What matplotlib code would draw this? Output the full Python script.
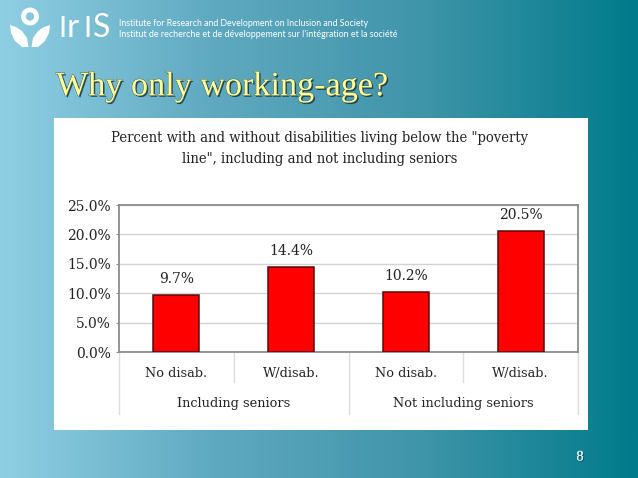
import numpy as np
from matplotlib import pyplot as plt
from matplotlib import patheffects as pe
from matplotlib.colors import LinearSegmentedColormap
from matplotlib.patches import Rectangle, Circle, Polygon

W, H = 638, 478

categories = ['No disab.', 'W/disab.', 'No disab.', 'W/disab.']
groups = ['Including seniors', 'Not including seniors']
values = [9.7, 14.4, 10.2, 20.5]
yticks = [0, 5, 10, 15, 20, 25]

title = 'Why only working-age?'
chart_title = 'Percent with and without disabilities living below the "poverty\nline", including and not including seniors'
org_en = 'Institute for Research and Development on Inclusion and Society'
org_fr = "Institut de recherche et de développement sur l'intégration et la société"

plt.rcParams['font.family'] = ['Liberation Serif', 'DejaVu Serif']

fig = plt.figure(figsize=(W / 100, H / 100), dpi=100)

# background, in pixel coordinates
bg = fig.add_axes([0, 0, 1, 1])
bg.axis('off')
cmap = LinearSegmentedColormap.from_list('slide', ['#8fcfe3', '#5fa9c0', '#3f94a9', '#007b8b'])
bg.imshow(np.linspace(0, 1, 256).reshape(1, -1), cmap=cmap, extent=[0, W, H, 0], aspect='auto')
bg.set_xlim(0, W)
bg.set_ylim(H, 0)

# white panel
bg.add_patch(Rectangle((54, 118), 534, 312, fc='white', ec='none'))

# logo
bg.add_patch(Circle((30, 16.5), 6.6, fc='none', ec='white', lw=3.4))
left_wing = np.array([(10, 25), (16, 27), (22, 31), (27, 38), (28.5, 47), (22, 47), (15, 41), (11, 33)])
right_wing = np.column_stack([60 - left_wing[:, 0], left_wing[:, 1]])
bg.add_patch(Polygon(left_wing, fc='white', ec='none'))
bg.add_patch(Polygon(right_wing, fc='white', ec='none'))
for lx, letter, size in [(58, 'I', 21), (67, 'r', 24), (83, 'I', 21), (93, 'S', 23)]:
    bg.text(lx, 36.5, letter, color='white', fontsize=size, family='Lato', va='baseline', ha='left')
bg.text(119, 23.5, org_en, color='white', fontsize=6.32, family='Lato', va='center', ha='left')
bg.text(119, 34, org_fr, color='white', fontsize=6.41, family='Lato', va='center', ha='left')

# slide title
bg.text(56, 87, title, color='#ffff99', fontsize=24.6, family='Liberation Serif', va='center', ha='left',
        path_effects=[pe.withSimplePatchShadow(offset=(1.1, -1.1), shadow_rgbFace='#1c3c48', alpha=0.9),
                      pe.Stroke(linewidth=0.6, foreground='#34504f'), pe.Normal()])
bg.text(580, 457, '8', color='#e8f4e8', fontsize=10.5, family='Liberation Serif', va='center', ha='center',
        path_effects=[pe.withSimplePatchShadow(offset=(0.6, -0.6), shadow_rgbFace='#103040', alpha=0.8), pe.Normal()])

# chart title
bg.text(320, 148.5, chart_title, color='#222222', fontsize=10.6, family='DejaVu Serif', va='center', ha='center',
        linespacing=1.6, stretch='condensed')

# chart
ax = fig.add_axes([119 / W, 1 - 352 / H, (578 - 119) / W, (352 - 205) / H])
ax.set_zorder(2)
x = np.arange(len(values))
ax.bar(x, values, width=0.4, color='#ff0000', edgecolor='#5a0a0a', linewidth=1.1, zorder=3)
ax.set_xlim(-0.5, 3.5)
ax.set_ylim(0, 25)
ax.set_yticks(yticks)
ax.set_yticklabels(['%.1f%%' % v for v in yticks], fontsize=10, family='DejaVu Serif', color='#222222')
ax.yaxis.grid(True, color='#d4d4d4', lw=1)
ax.set_axisbelow(True)
ax.tick_params(axis='y', length=2, color='#8c8c8c', pad=4)
ax.set_xticks([])
for s in ax.spines.values():
    s.set_color('#8c8c8c')
    s.set_linewidth(1.3)

for xi, v in zip(x, values):
    ax.annotate('%.1f%%' % v, (xi, v), xytext=(0, 11.5), textcoords='offset points', ha='center', va='center',
                fontsize=10, family='DejaVu Serif', color='#222222')

# two level category axis under the chart
trans = ax.get_xaxis_transform()
for xi, c in zip(x, categories):
    ax.annotate(c, (xi, 0), xytext=(0, -15.5), textcoords='offset points', xycoords=trans, ha='center', va='center',
                fontsize=9.3, family='DejaVu Serif', color='#222222')
for xi, g in zip([0.5, 2.5], groups):
    ax.annotate(g, (xi, 0), xytext=(0, -37), textcoords='offset points', xycoords=trans, ha='center', va='center',
                fontsize=9.3, family='DejaVu Serif', color='#222222')
for xs, y1 in [(-0.5, 414), (0.5, 382), (1.5, 414), (2.5, 382), (3.5, 414)]:
    px = 119 + (xs + 0.5) * (578 - 119) / 4
    bg.plot([px, px], [352, y1], color='#dcdcdc', lw=1)

fig.savefig('out.png', dpi=100)
